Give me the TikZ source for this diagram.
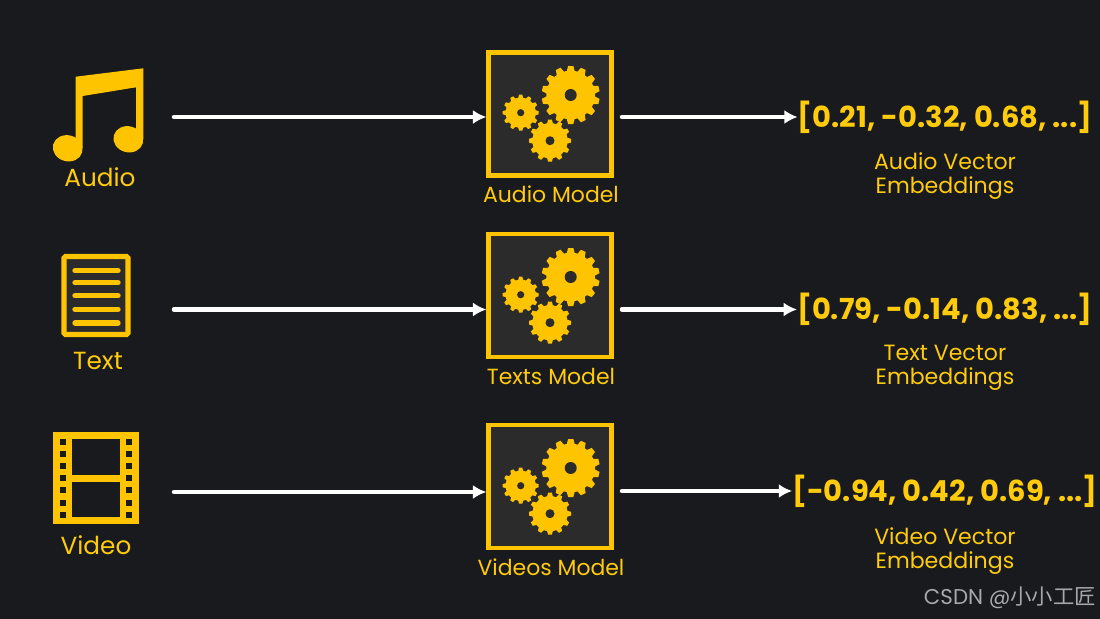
\documentclass[tikz,border=0pt]{standalone}
\usepackage{xcolor}
\usepackage{fontspec}
\setmainfont{Poppins}
\newfontfamily\cjkfont{Noto Sans CJK SC}
\usetikzlibrary{arrows.meta}

\definecolor{bgdark}{HTML}{181A1E}
\definecolor{panel}{HTML}{2B2B2B}
\definecolor{gold}{HTML}{FFC400}
\definecolor{labelgold}{HTML}{FFCB0A}

\tikzset{
    modelbox/.style={draw=gold, line width=3.2pt, fill=panel, minimum size=3.07cm, inner sep=0pt},
    iconlabel/.style={text=labelgold, font=\fontsize{17.6}{20}\selectfont, inner sep=0pt},
    modellabel/.style={text=labelgold, font=\fontsize{15.6}{18}\selectfont, inner sep=0pt},
    vectext/.style={text=labelgold, font=\fontsize{20.6}{26}\selectfont\bfseries, inner sep=0pt},
    vecnote/.style={text=labelgold, font=\fontsize{15.7}{17}\selectfont, align=center, inner sep=0pt},
    flow/.style={draw=white, line width=3.2pt, line cap=round, -{Latex[length=9.5pt,width=10pt]}},
}

% centre x, centre y, outer radius, hole radius, tooth spacing
\newcommand{\modelgear}[5]{
    \fill[gold] (#1,#2) circle ({#3*0.84});
    \foreach \a in {0,#5,...,359}
        \fill[gold, shift={(#1,#2)}, rotate=\a] ({-#3*0.15},{#3*0.78}) -- ({-#3*0.09},#3) -- ({#3*0.09},#3) -- ({#3*0.15},{#3*0.78}) -- cycle;
    \fill[panel] (#1,#2) circle (#4);
}

\begin{document}
\begin{tikzpicture}[x=0.025cm,y=-0.025cm]
    \useasboundingbox (0,0) rectangle (1100,619);
    \fill[bgdark] (0,0) rectangle (1100,619);

    % audio icon
    \fill[gold] (75.7,76.7) -- (143.3,68.3) -- (143.3,139.3) -- (136,139.3) -- (136,87.3) -- (82.7,96) -- (82.7,148.3) -- (75.7,148.3) -- cycle;
    \fill[gold, rotate around={-15:(67.7,148.3)}] (67.7,148.3) ellipse (15 and 13);
    \fill[gold, rotate around={-15:(128.3,139.3)}] (128.3,139.3) ellipse (15 and 13);
    \node[iconlabel] (audiolabel) at (100,177) {Audio};

    % text icon
    \draw[gold, line width=3.6pt, fill=panel, rounded corners=1pt] (64,256.5) rectangle (128,334.5);
    \foreach \y in {270.7,282.7,295.7,309.3,323}
        \draw[gold, line width=3.8pt, line cap=round] (75,\y) -- (118,\y);
    \node[iconlabel] (textlabel) at (98,361) {Text};

    % video icon
    \fill[gold] (53.3,432.3) rectangle (139,524);
    \fill[bgdark] (72,439) rectangle (120,475);
    \fill[bgdark] (72,481.7) rectangle (120,517.3);
    \foreach \y in {442,454,466,478.3,490.3,502.7,514.7} {
        \fill[bgdark] (59.7,\y-3) rectangle (65.7,\y+3);
        \fill[bgdark] (126.3,\y-3) rectangle (132.3,\y+3);
    }
    \node[iconlabel] (videolabel) at (96,545) {Video};

    % models
    \node[modelbox] (audiomodel) at (550,114) {};
    \node[modelbox] (textmodel) at (550,295.5) {};
    \node[modelbox] (videomodel) at (550,486.5) {};
    \foreach \dy in {0,182,373} {
        \begin{scope}[shift={(0,\dy)}]
            \modelgear{570.7}{95}{29}{6}{25.7}
            \modelgear{520.7}{112.7}{18}{3.6}{30}
            \modelgear{550}{140.7}{21}{4.5}{30}
        \end{scope}
    }
    \node[modellabel] (audiomodellabel) at (551,194) {Audio Model};
    \node[modellabel] (textmodellabel) at (551,376) {Texts Model};
    \node[modellabel] (videomodellabel) at (551,567) {Videos Model};

    % vectors
    \node[vectext] (audiovec) at (945,117) {[0.21, -0.32, 0.68, ...]};
    \node[vectext] (textvec) at (945,309) {[0.79, -0.14, 0.83, ...]};
    \node[vectext] (videovec) at (945,491) {[-0.94, 0.42, 0.69, ...]};
    \node[vecnote] (audionote) at (945,176) {Audio Vector\\Embeddings};
    \node[vecnote] (textnote) at (945,368) {Text Vector\\Embeddings};
    \node[vecnote] (videonote) at (945,551) {Video Vector\\Embeddings};

    % arrows
    \coordinate (audiostart) at (174,117);
    \coordinate (textstart) at (174,309.5);
    \coordinate (videostart) at (174,492);
    \coordinate (audioout) at (622,117);
    \coordinate (textout) at (622,309.5);
    \coordinate (videoout) at (622,491);
    \draw[flow] (audiostart) -- (audiostart -| audiomodel.west);
    \draw[flow] (textstart) -- (textstart -| textmodel.west);
    \draw[flow] (videostart) -- (videostart -| videomodel.west);
    \draw[flow] (audioout) -- (audioout -| audiovec.west);
    \draw[flow] (textout) -- (textout -| textvec.west);
    \draw[flow] (videoout) -- (videoout -| videovec.west);

    \node[text=white!62!bgdark, font=\fontsize{15.2}{16}\selectfont, inner sep=0pt] (mark) at (1010,598) {CSDN @{\cjkfont 小小工匠}};
\end{tikzpicture}
\end{document}
